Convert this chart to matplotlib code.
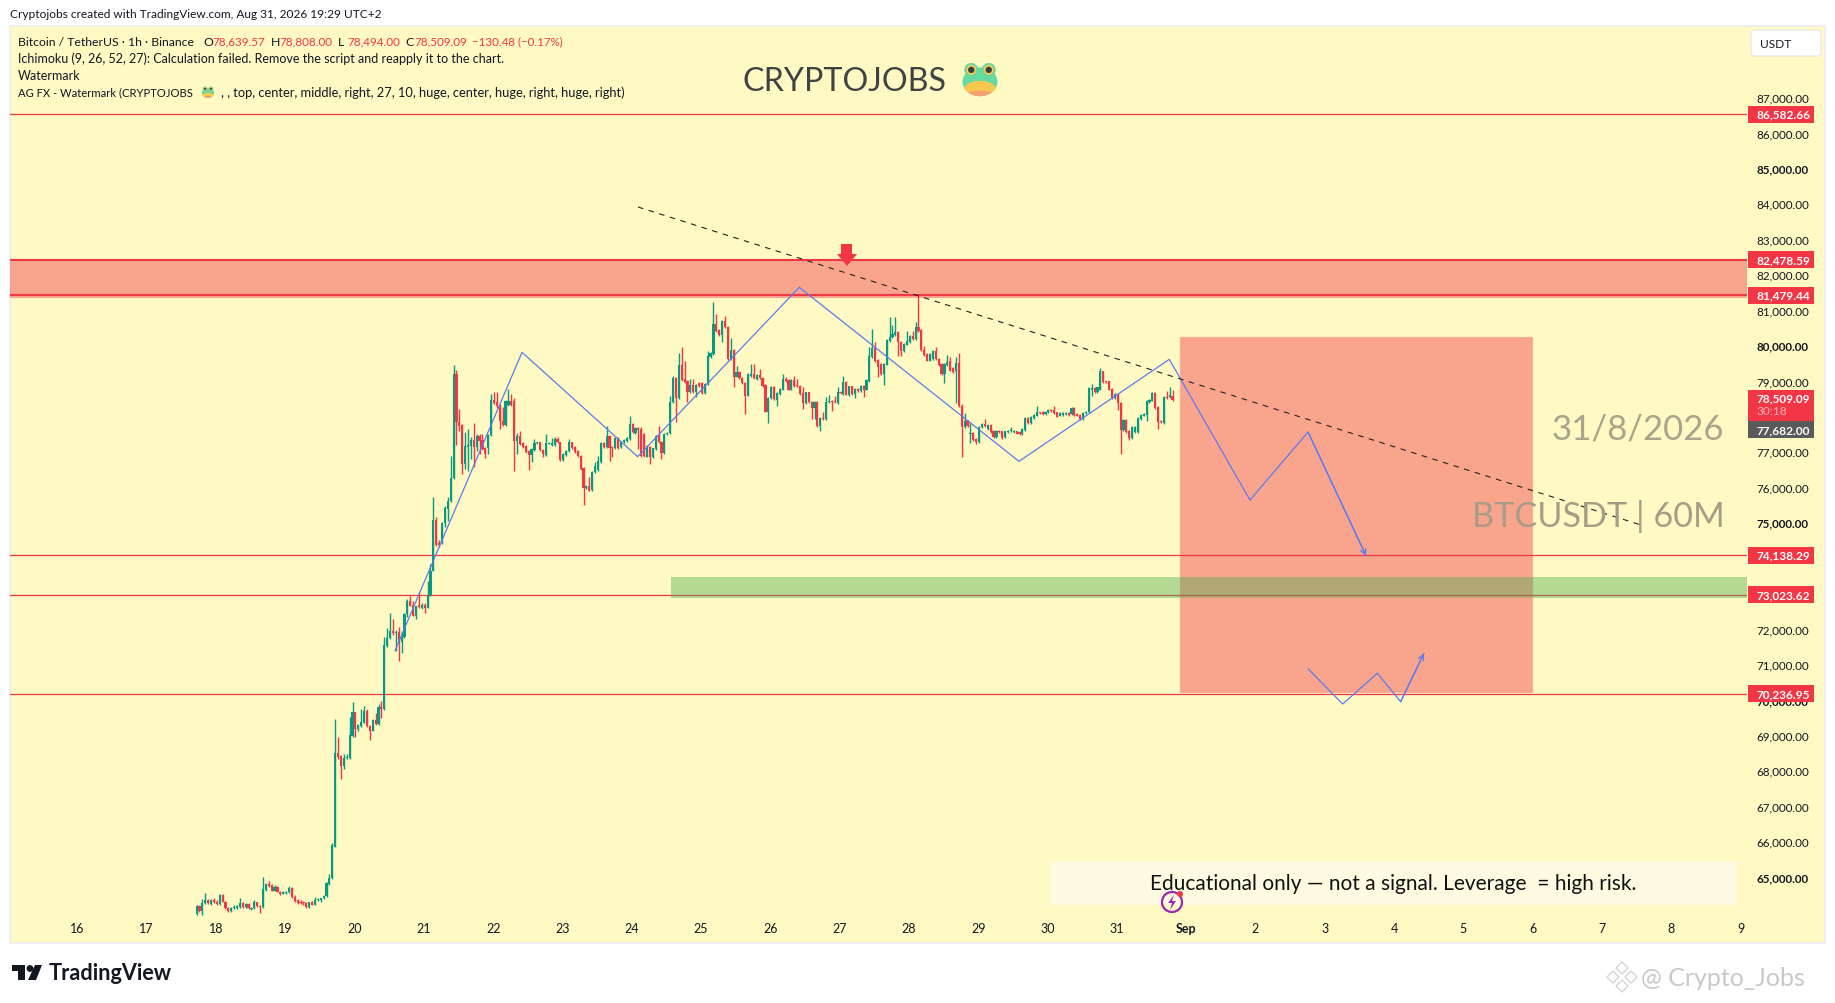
import matplotlib
matplotlib.use("Agg")
import matplotlib.pyplot as plt
from matplotlib.colors import to_rgba
from matplotlib.patches import Circle, Ellipse, FancyBboxPatch, Polygon, Rectangle
from matplotlib.transforms import ScaledTranslation
import numpy as np

plt.rcParams["font.family"] = ["Lato", "DejaVu Sans"]

W, H = 1835, 1004
DPI = 100

# chart data
first_candle_day = 17.72
opens = [
    64020, 64230, 64110, 64330, 64420, 64300, 64420, 64370, 64290, 64550, 64370, 64190,
    64100, 64180, 64190, 64210, 64320, 64210, 64290, 64160, 64180, 64350, 64250, 64220,
    64700, 64860, 64830, 64680, 64770, 64650, 64590, 64600, 64630, 64750, 64490, 64410,
    64370, 64350, 64330, 64220, 64350, 64280, 64410, 64420, 64460, 64520, 64870, 65020,
    65920, 68560, 68470, 68200, 68410, 68430, 69050, 69710, 69240, 69330, 69420, 69740,
    69310, 69190, 69490, 69380, 69850, 69800, 71590, 71800, 71990, 71950, 71970, 71680,
    71820, 72480, 72850, 72740, 72440, 72740, 72660, 72750, 72660, 73030, 73710, 75130,
    74500, 74490, 75050, 75450, 75660, 76310, 79250, 77910, 77815, 76715, 77185, 77230,
    77390, 77185, 77495, 77390, 77170, 77170, 77530, 78520, 78455, 78360, 77940, 77825,
    78380, 78490, 78490, 77375, 77495, 77310, 77230, 77090, 76980, 77120, 77300, 77325,
    77120, 76980, 77290, 77260, 77260, 77420, 77325, 76830, 76980, 77090, 77325, 77185,
    77080, 76950, 76590, 76035, 76085, 75980, 76480, 76545, 76760, 77310, 77205, 77495,
    77185, 77155, 77460, 77185, 77325, 77365, 77420, 77845, 77590, 77730, 77700, 77560,
    76920, 77185, 76900, 77140, 77495, 77345, 77025, 77560, 77590, 78470, 79150, 78575,
    79510, 79115, 79065, 78755, 78945, 78755, 79000, 79000, 78720, 78960, 79735, 79810,
    80665, 80505, 80355, 80760, 80570, 79680, 79940, 79180, 79320, 79150, 79000, 78640,
    79210, 79255, 79110, 79235, 79140, 78945, 78190, 78570, 78880, 78530, 78690, 78810,
    79115, 79085, 78810, 79095, 78945, 78925, 78710, 78435, 78735, 78475, 78305, 78475,
    77780, 78020, 77985, 78455, 78500, 78500, 78425, 78755, 78690, 79020, 78670, 78905,
    78690, 78830, 78785, 78925, 78810, 79065, 79735, 79990, 79650, 79535, 79255, 79520,
    80195, 80290, 80365, 80430, 80165, 79910, 80080, 80165, 80320, 80240, 80570, 80495,
    79940, 79820, 79630, 79680, 79895, 79680, 79535, 79255, 79520, 79630, 79415, 79330,
    79565, 78360, 77770, 77940, 77560, 77590, 77420, 77345, 77750, 77845, 77700, 77825,
    77655, 77485, 77655, 77635, 77485, 77625, 77645, 77625, 77635, 77610, 77560, 77685,
    78015, 77860, 78015, 78080, 78170, 78170, 78125, 78170, 78250, 78240, 78170, 78080,
    78105, 78125, 78145, 78115, 78295, 78125, 78100, 77985, 78145, 78170, 78810, 78860,
    78755, 78810, 79330, 79045, 79045, 78830, 78570, 78690, 78435, 77685, 77955, 77645,
    77440, 77625, 77625, 77985, 78080, 78105, 78475, 78500, 78720, 78315, 77940, 77870,
    78615, 78595, 78639.57,
]
closes = [
    64230, 64110, 64330, 64420, 64330, 64420, 64370, 64290, 64550, 64370, 64190, 64100,
    64190, 64220, 64230, 64320, 64210, 64290, 64180, 64190, 64350, 64230, 64220, 64720,
    64860, 64820, 64680, 64770, 64650, 64590, 64630, 64650, 64750, 64490, 64390, 64340,
    64340, 64330, 64220, 64350, 64280, 64420, 64440, 64460, 64530, 64890, 65020, 65960,
    68560, 68440, 68200, 68410, 68440, 69070, 69710, 69240, 69350, 69440, 69740, 69310,
    69190, 69490, 69380, 69850, 69800, 71608, 71800, 71990, 71950, 71970, 71680, 71820,
    72480, 72850, 72720, 72440, 72700, 72670, 72750, 72660, 73030, 73710, 75130, 74430,
    74430, 75050, 75470, 75680, 76310, 79250, 77890, 77800, 76715, 77230, 77260, 77390,
    77185, 77495, 77375, 77140, 77000, 77530, 78520, 78435, 78340, 77940, 77825, 78490,
    78490, 78380, 77375, 77495, 77280, 77205, 77060, 76980, 77140, 77310, 77325, 77120,
    77000, 77310, 77310, 77310, 77420, 77325, 76830, 77000, 77090, 77325, 77165, 77060,
    76930, 76575, 76035, 76085, 75960, 76480, 76650, 76790, 77310, 77205, 77495, 77165,
    77155, 77460, 77165, 77345, 77380, 77440, 77845, 77610, 77730, 77685, 76930, 76930,
    77230, 76900, 77155, 77495, 77325, 77025, 77560, 77590, 78455, 79150, 78575, 79510,
    79095, 79040, 78755, 78945, 78735, 78945, 78910, 78720, 78980, 79755, 79850, 80665,
    80475, 80355, 80760, 80570, 79680, 79940, 79180, 79320, 79130, 78990, 78640, 79255,
    79255, 79140, 79235, 79130, 78925, 78190, 78575, 78880, 78550, 78720, 78830, 79115,
    79065, 78810, 79095, 78925, 78925, 78690, 78435, 78735, 78455, 78305, 78455, 77780,
    78005, 77985, 78475, 78500, 78475, 78475, 78735, 78710, 79020, 78670, 78905, 78690,
    78830, 78785, 78925, 78810, 79085, 79755, 79990, 79630, 79460, 79255, 79535, 80215,
    80290, 80385, 80430, 80150, 79910, 80100, 80175, 80320, 80240, 80570, 80475, 79930,
    79790, 79630, 79820, 79895, 79680, 79510, 79255, 79535, 79600, 79350, 79300, 79565,
    78340, 77770, 77920, 77795, 77590, 77400, 77345, 77770, 77845, 77795, 77815, 77625,
    77485, 77655, 77625, 77440, 77635, 77655, 77685, 77655, 77570, 77550, 77700, 78015,
    77860, 78030, 78100, 78170, 78150, 78125, 78190, 78240, 78210, 78145, 78050, 78145,
    78145, 78155, 78105, 78295, 78100, 78080, 77985, 78145, 78190, 78850, 78860, 78755,
    78880, 79330, 79020, 79020, 78810, 78570, 78690, 78435, 77685, 77955, 77625, 77440,
    77750, 77750, 78015, 78100, 78125, 78500, 78520, 78720, 78295, 77910, 77890, 78595,
    78575, 78660, 78509.09,
]
highs = [
    64260, 64260, 64450, 64610, 64450, 64450, 64460, 64400, 64590, 64580, 64390, 64210,
    64220, 64260, 64270, 64470, 64360, 64330, 64320, 64220, 64420, 64370, 64270, 65050,
    64900, 64950, 64860, 64830, 64800, 64670, 64660, 64680, 64820, 64780, 64560, 64440,
    64400, 64380, 64360, 64370, 64380, 64510, 64480, 64480, 64560, 64920, 65160, 66010,
    69520, 69000, 68500, 68530, 68530, 69590, 69990, 69730, 69390, 69800, 69900, 69800,
    69340, 69530, 69680, 69940, 70040, 71825, 72090, 72510, 72340, 72040, 72110, 72010,
    72500, 72900, 72980, 72860, 72720, 73110, 72780, 72780, 73410, 73890, 75775, 75210,
    74560, 75080, 75520, 75775, 76950, 79510, 79380, 78270, 77850, 77610, 77700, 77470,
    77870, 77560, 77560, 77560, 77200, 77570, 78690, 78755, 78735, 78400, 78315, 78520,
    78830, 78690, 78570, 77590, 77655, 77340, 77260, 77120, 77170, 77420, 77350, 77350,
    77150, 77560, 77340, 77440, 77470, 77470, 77350, 77030, 77120, 77420, 77350, 77210,
    77110, 76980, 76620, 76120, 76340, 76510, 76760, 76930, 77340, 77340, 77780, 77520,
    77210, 77490, 77490, 77370, 77410, 77470, 78080, 77870, 77760, 77770, 77750, 77590,
    77260, 77210, 77180, 77520, 77795, 77370, 77590, 77620, 78625, 79190, 79180, 79850,
    80005, 79630, 79090, 79115, 79115, 78970, 79030, 79030, 79010, 79910, 79880, 81275,
    80945, 80530, 80790, 80900, 80600, 80260, 79970, 79490, 79350, 79170, 79030, 79280,
    79535, 79535, 79260, 79395, 79160, 78970, 78600, 78925, 78910, 78750, 78860, 79255,
    79180, 79110, 79120, 79210, 79115, 78950, 78880, 78760, 78760, 78500, 78480, 78500,
    78030, 78170, 78595, 78660, 78530, 78640, 78880, 78780, 79190, 79050, 78930, 78930,
    78860, 78860, 78950, 78950, 79110, 80005, 80525, 80150, 79680, 79560, 79560, 80240,
    80855, 80640, 80870, 80460, 80190, 80130, 80477, 80350, 80477, 80730, 81480, 80520,
    80055, 79850, 79850, 79920, 80005, 79700, 79560, 79560, 79790, 79725, 79440, 79725,
    79845, 78410, 78155, 77970, 77860, 77620, 77450, 77800, 77870, 77985, 77840, 77850,
    77680, 77680, 77680, 77660, 77660, 77680, 77750, 77680, 77660, 77640, 77730, 78040,
    78040, 78060, 78130, 78360, 78190, 78200, 78210, 78260, 78280, 78360, 78190, 78170,
    78170, 78180, 78170, 78320, 78320, 78150, 78120, 78170, 78210, 78880, 78970, 78880,
    78900, 79425, 79350, 79070, 79070, 78850, 78720, 78720, 78460, 77980, 77980, 77670,
    77780, 77780, 78040, 78130, 78150, 78530, 78550, 78755, 78750, 78340, 77970, 78620,
    78785, 78880, 78808,
]
lows = [
    64000, 64080, 64000, 64300, 64300, 64280, 64320, 64270, 64280, 64350, 64170, 64080,
    64080, 64150, 64160, 64190, 64190, 64190, 64150, 64130, 64160, 64220, 64050, 64200,
    64680, 64790, 64660, 64660, 64630, 64560, 64570, 64580, 64610, 64470, 64370, 64310,
    64310, 64280, 64200, 64200, 64260, 64260, 64390, 64370, 64440, 64510, 64850, 65000,
    65900, 68400, 67830, 68110, 68380, 68400, 69020, 69000, 69190, 69300, 69400, 69290,
    68940, 69170, 69360, 69340, 69540, 69780, 71540, 71780, 71900, 71450, 71170, 71380,
    71800, 72400, 72700, 72420, 72340, 72650, 72630, 72510, 72640, 73000, 73690, 74400,
    74380, 74460, 74930, 75120, 75640, 76290, 77250, 77650, 76430, 76570, 76530, 76860,
    76620, 77090, 77000, 77120, 76875, 76990, 77500, 78400, 78300, 77700, 77800, 77800,
    78360, 78360, 76530, 77000, 77250, 77170, 77030, 76555, 76780, 77090, 77270, 77090,
    76900, 76950, 77270, 77230, 77230, 77300, 76810, 76810, 76950, 77060, 77140, 77030,
    76900, 76550, 75560, 76000, 75940, 75960, 76450, 76520, 76740, 77180, 77180, 76810,
    76900, 77130, 77140, 77160, 77300, 77340, 77400, 77590, 77570, 77140, 76900, 76900,
    76900, 76705, 76880, 77110, 77300, 76855, 77000, 77530, 77560, 78450, 77890, 78550,
    79070, 79010, 78475, 78730, 78710, 78600, 78880, 78700, 78695, 78940, 79710, 79790,
    80450, 80330, 80150, 80550, 79660, 79660, 78900, 79160, 79110, 78970, 78125, 78620,
    79180, 79120, 79090, 79110, 78900, 78170, 77870, 78540, 78530, 78340, 78670, 78790,
    79040, 78790, 78790, 78900, 78900, 78670, 78265, 78410, 78430, 77985, 77985, 77760,
    77645, 77960, 77960, 78430, 78220, 78450, 78400, 78690, 78670, 78650, 78640, 78670,
    78570, 78760, 78760, 78595, 78790, 79040, 79710, 79600, 79180, 79230, 78945, 79500,
    80170, 80260, 80340, 79770, 79750, 79880, 80060, 80140, 80220, 80210, 80450, 79900,
    79770, 79610, 79610, 79650, 79660, 79490, 79230, 79000, 79490, 79330, 79280, 78435,
    78320, 76920, 77740, 77770, 77310, 77370, 77280, 77320, 77730, 77770, 77680, 77600,
    77460, 77460, 77600, 77420, 77460, 77600, 77620, 77600, 77550, 77520, 77540, 77660,
    77840, 77840, 77990, 78060, 78130, 78100, 78100, 78150, 78190, 78120, 78030, 78060,
    78080, 78100, 78080, 78090, 78080, 78060, 77960, 77960, 78120, 78150, 78625, 78730,
    78730, 78790, 79000, 78990, 78790, 78540, 78550, 78250, 77000, 77660, 77600, 77400,
    77410, 77600, 77600, 77960, 78060, 77940, 78450, 78480, 78270, 77700, 77860, 77850,
    78550, 78570, 78494,
]

level_lines = [86582.66, 74138.29, 73023.62, 70236.95]
zone_top, zone_bottom = 82478.59, 81479.44
# 78k, 74k and 73k sit behind the price tags, the screenshot doesn't show them
price_ticks = [65000, 66000, 67000, 68000, 69000, 70000, 71000, 72000, 75000, 76000, 77000,
               79000, 80000, 81000, 82000, 83000, 84000, 85000, 86000, 87000]
major_prices = [65000, 70000, 75000, 80000, 85000]
day_ticks = [16, 17, 18, 19, 20, 21, 22, 23, 24, 25, 26, 27, 28, 29, 30, 31, 32, 33, 34, 35, 36, 37, 38, 39, 40]
day_labels = ["16", "17", "18", "19", "20", "21", "22", "23", "24", "25", "26", "27", "28", "29", "30", "31",
              "Sep", "2", "3", "4", "5", "6", "7", "8", "9"]

zigzag_days = [20.583, 22.416, 24.085, 26.417, 29.587, 31.756, 32.92, 33.758, 34.595]
zigzag_prices = [71447, 79867, 76921, 81701, 76791, 79669, 75699, 77618, 74128]
small_zig_days = [33.762, 34.258, 34.758, 35.095, 35.431]
small_zig_prices = [70931, 69943, 70810, 70008, 71374]
trend_days = [24.089, 38.563]
trend_prices = [83967, 74994]

long_box = (31.91, 36.99, 70290, 80290)
green_box = (24.56, 40.50, 72934, 73527)

right_labels = [(86582.66, "86,582.66"), (82478.59, "82,478.59"), (81479.44, "81,479.44"),
                (74138.29, "74,138.29"), (73023.62, "73,023.62"), (70236.95, "70,236.95")]

YELLOW = "#fff9c4"
RED = "#f23645"
GREEN = "#089981"
BLUE = "#5b7cf0"
INK = "#131722"


def px_x(x):
    return x / W


def px_y(y):
    return 1 - y / H


def price_to_px(p):
    return 115.3 + (86582.66 - p) * 0.03544


def draw_frog(ax, cx, cy, s):
    # frog emoji, s is the width in figure pixels
    head = Ellipse((cx, cy + 0.08 * s), s, 0.82 * s, fc="#66d9a0", ec="none")
    ax.add_patch(head)
    belly = Ellipse((cx, cy + 0.34 * s), 0.96 * s, 0.58 * s, fc="#f8c94e", ec="none")
    blush = Ellipse((cx, cy + 0.50 * s), 0.9 * s, 0.34 * s, fc="#f4a070", ec="none")
    ax.add_patch(belly)
    ax.add_patch(blush)
    belly.set_clip_path(head)
    blush.set_clip_path(head)
    for off in (-0.25, 0.25):
        ax.add_patch(Circle((cx + off * s, cy - 0.26 * s), 0.2 * s, fc="#66d9a0", ec="none"))
        ax.add_patch(Circle((cx + off * s, cy - 0.26 * s), 0.14 * s, fc="#f8c94e", ec="none"))
        ax.add_patch(Circle((cx + off * s, cy - 0.26 * s), 0.09 * s, fc="#3c3c3c", ec="none"))


def main():
    fig = plt.figure(figsize=(W / DPI, H / DPI), dpi=DPI, facecolor="white")

    # overlay in figure pixels for the frame, logos and icons
    back = fig.add_axes([0, 0, 1, 1], zorder=0)
    back.set_xlim(0, W)
    back.set_ylim(H, 0)
    back.axis("off")
    back.add_patch(Rectangle((10, 27), 1815, 917, fc=YELLOW, ec="#eeeeee", lw=1.5))

    left, right, top, bottom = 10, 1747, 27, 943
    ax = fig.add_axes([px_x(left), px_y(bottom), (right - left) / W, (bottom - top) / H], zorder=1)
    ax.patch.set_alpha(0)
    ax.set_xlim(18 + (left - 216) / 69.3, 18 + (right - 216) / 69.3)
    ax.set_ylim(86582.66 - (bottom - 115.3) / 0.03544, 86582.66 - (top - 115.3) / 0.03544)
    for spine in ax.spines.values():
        spine.set_visible(False)

    ax.yaxis.tick_right()
    ax.set_yticks(price_ticks)
    ax.set_yticklabels([f"{p:,.2f}" for p in price_ticks], fontsize=8.4, color=INK)
    # the pad resets the label transforms, so it has to come before the nudge
    ax.tick_params(axis="y", length=0, pad=6.5)
    nudge = ScaledTranslation(0, 2.5 / DPI, fig.dpi_scale_trans)
    for label, p in zip(ax.get_yticklabels(), price_ticks):
        label.set_transform(label.get_transform() + nudge)
        if p in major_prices:
            label.set_fontweight("bold")
    ax.set_xticks(day_ticks)
    ax.set_xticklabels(day_labels, fontsize=9, color=INK)
    ax.get_xticklabels()[16].set_fontweight("bold")
    ax.tick_params(axis="x", length=0, direction="in", pad=-14.5)

    # resistance zone and the flat levels
    ax.axhspan(zone_bottom - 90, zone_top, color=RED, alpha=0.43, lw=0, zorder=1)
    ax.axhline(zone_top, color=RED, lw=1.5, zorder=2)
    ax.axhline(zone_bottom, color=RED, lw=1.5, zorder=2)
    for level in level_lines:
        ax.axhline(level, color=RED, lw=0.9, zorder=2)

    x0, x1, y0, y1 = long_box
    ax.add_patch(Rectangle((x0, y0), x1 - x0, y1 - y0, fc=to_rgba(RED, 0.43), ec=to_rgba(RED, 0.2), lw=1, zorder=1.5))
    x0, x1, y0, y1 = green_box
    ax.add_patch(Rectangle((x0, y0), x1 - x0, y1 - y0, fc="#4caf50", alpha=0.42, lw=0, zorder=2.5))

    # candles
    days = first_candle_day + np.arange(len(closes)) / 24
    o, c, h, l = map(np.asarray, (opens, closes, highs, lows))
    colors = np.where(c >= o, GREEN, RED)
    ax.vlines(days, l, h, colors=colors, lw=1.0, zorder=3)
    ax.bar(days, np.abs(c - o), bottom=np.minimum(o, c), width=0.031, color=colors, lw=0, zorder=3)

    # drawings
    ax.plot(zigzag_days, zigzag_prices, color=BLUE, lw=0.9, zorder=4)
    ax.plot(small_zig_days, small_zig_prices, color=BLUE, lw=0.9, zorder=4)
    ax.plot(trend_days, trend_prices, color="#222222", lw=0.8, ls=(0, (5, 5)), zorder=4)
    for xs, ys in ((zigzag_days, zigzag_prices), (small_zig_days, small_zig_prices)):
        ax.annotate("", xy=(xs[-1], ys[-1]), xytext=(xs[-2], ys[-2]), zorder=4,
                    arrowprops=dict(arrowstyle="->", color=BLUE, lw=0.9, shrinkA=0, shrinkB=0))

    ax.text(1724, 430, "31/8/2026", transform=back.transData, fontsize=25, color="#a9a48c",
            ha="right", va="center", zorder=5)
    ax.text(1725, 517, "BTCUSDT | 60M", transform=back.transData, fontsize=24.7, color="#a89c88",
            ha="right", va="center", zorder=5)

    # everything else sits in figure pixels
    over = fig.add_axes([0, 0, 1, 1], zorder=2)
    over.set_xlim(0, W)
    over.set_ylim(H, 0)
    over.axis("off")
    over.patch.set_alpha(0)

    over.text(10, 15, "Cryptojobs created with TradingView.com, Aug 31, 2026 19:29 UTC+2",
              fontsize=8.6, color=INK, va="center")
    over.text(18, 42, "Bitcoin / TetherUS · 1h · Binance", fontsize=8.8, color=INK, va="center")
    ohlc = [(203, "O", "78,639.57"), (270.5, "H", "78,808.00"), (338, "L", "78,494.00"), (405, "C", "78,509.09")]
    for x, key, value in ohlc:
        over.text(x, 42, key, fontsize=8.8, color=INK, va="center")
        over.text(x + 9, 42, value, fontsize=8.4, color=RED, va="center")
    over.text(472, 42, "−130.48 (−0.17%)", fontsize=8.3, color=RED, va="center")
    over.text(18, 59, "Ichimoku (9, 26, 52, 27): Calculation failed. Remove the script and reapply it to the chart.",
              fontsize=9, color=INK, va="center")
    over.text(18, 76, "Watermark", fontsize=9, color=INK, va="center")
    over.text(18, 93, "AG FX - Watermark (CRYPTOJOBS", fontsize=8.15, color=INK, va="center")
    draw_frog(over, 208, 93, 12)
    over.text(221, 93, ", , top, center, middle, right, 27, 10, huge, center, huge, right, huge, right)",
              fontsize=9.25, color=INK, va="center")

    over.text(742, 82, "CRYPTOJOBS", fontsize=23.2, color="#3f4346", va="center")
    draw_frog(over, 980, 80, 35)

    # USDT box
    over.add_patch(FancyBboxPatch((1751, 31), 70, 26, boxstyle="round,pad=0,rounding_size=4",
                                  fc="white", ec="#e5e5e5", lw=0.8))
    over.text(1760, 45, "USDT", fontsize=8.6, color=INK, va="center")

    # price tags on the axis
    for price, text in right_labels:
        y = price_to_px(price)
        over.add_patch(Rectangle((1748, y - 8.5), 66, 17, fc=RED, ec="none"))
        over.text(1756, y, text, fontsize=8.6, color="white", fontweight="bold", va="center")
    over.add_patch(Rectangle((1748, 391), 66, 31, fc=RED, ec="none"))
    over.text(1756, 399, "78,509.09", fontsize=8.6, color="white", fontweight="bold", va="center")
    over.text(1756, 412, "30:18", fontsize=8.6, color="#ffb0b6", va="center")
    over.add_patch(Rectangle((1748, 422), 66, 17, fc="#5a5a5a", ec="none"))
    over.text(1756, 430.5, "77,682.00", fontsize=8.6, color="white", fontweight="bold", va="center")

    # red arrow above the zone
    over.add_patch(Polygon([(841, 245), (852, 245), (852, 255), (857, 255), (847, 267), (837, 255), (841, 255)],
                           fc=RED, ec="none"))

    # disclaimer box
    over.add_patch(Rectangle((1050, 862), 687, 43.5, fc="#fffbe3", ec="none"))
    over.text(1393, 884, "Educational only — not a signal. Leverage  = high risk.", fontsize=15,
              color="#111111", ha="center", va="center")

    # lightning badge
    over.add_patch(Circle((1172, 903), 10, fc="none", ec="#9c27b0", lw=1.6))
    over.add_patch(Polygon([(1174, 896), (1168, 904), (1172, 904), (1170, 911), (1176, 902), (1172, 902)],
                           fc="#9c27b0", ec="none"))
    over.add_patch(Circle((1180, 895), 3, fc=RED, ec="none"))

    # TradingView logo
    over.add_patch(Rectangle((12, 966), 13, 6, fc=INK, ec="none"))
    over.add_patch(Rectangle((18, 966), 7, 15, fc=INK, ec="none"))
    over.add_patch(Circle((30, 969.5), 3.4, fc=INK, ec="none"))
    over.add_patch(Polygon([(35, 966), (42, 966), (36, 981), (28, 981)], fc=INK, ec="none"))
    over.text(49, 974, "TradingView", fontsize=15.6, fontweight="bold", color=INK, va="center")

    # source watermark
    for dx, dy in ((0, -9), (-9, 0), (9, 0), (0, 9)):
        over.add_patch(Polygon([(1622 + dx, 978 + dy - 6), (1622 + dx + 6, 978 + dy), (1622 + dx, 978 + dy + 6),
                                (1622 + dx - 6, 978 + dy)], fc="none", ec="#d4d4d4", lw=1))
    over.text(1641, 979, "@ Crypto_Jobs", fontsize=18, color="#c9c9c9", va="center")

    fig.savefig("out.png", dpi=DPI)


if __name__ == "__main__":
    main()
